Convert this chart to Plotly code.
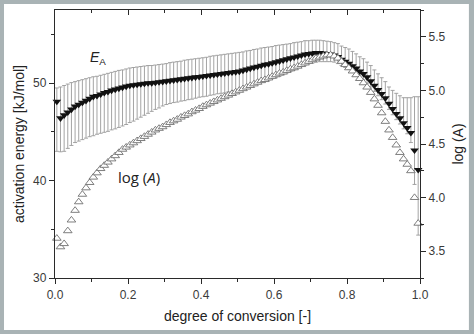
import plotly.graph_objects as go

# degree of conversion (independent variable)
conversion = [round(0.005 + 0.01 * i, 3) for i in range(100)]

# activation energy E_A [kJ/mol]
E_A = [
    48.1, 46.4, 46.7, 47.0, 47.3, 47.6, 47.8, 48.0, 48.2, 48.4,
    48.6, 48.7, 48.85, 49.0, 49.1, 49.25, 49.35, 49.45, 49.55, 49.65,
    49.75, 49.8, 49.85, 49.9, 49.95, 50.0, 50.0, 50.05, 50.1, 50.15,
    50.2, 50.25, 50.3, 50.35, 50.4, 50.45, 50.5, 50.55, 50.6, 50.65,
    50.7, 50.75, 50.8, 50.85, 50.9, 50.95, 51.0, 51.05, 51.1, 51.15,
    51.2, 51.3, 51.4, 51.5, 51.6, 51.7, 51.8, 51.9, 51.95, 52.05,
    52.15, 52.25, 52.35, 52.45, 52.55, 52.65, 52.75, 52.85, 52.95, 53.0,
    53.05, 53.1, 53.1, 53.05, 53.0, 52.95, 52.85, 52.7, 52.4, 52.2,
    52.0, 51.75, 51.5, 51.2, 50.95, 50.6, 50.2, 49.75, 49.3, 48.9,
    48.45, 47.9, 47.35, 46.85, 46.4, 45.9, 45.4, 44.9, 43.1, 41.1,
]

E_A_err_plus = [
    1.4, 3.2, 3.05, 2.9, 2.75, 2.55, 2.45, 2.35, 2.25, 2.15,
    2.05, 2.0, 1.95, 1.9, 1.9, 1.85, 1.85, 1.85, 1.8, 1.8,
    1.8, 1.8, 1.8, 1.8, 1.8, 1.8, 1.8, 1.8, 1.8, 1.8,
    1.8, 1.85, 1.85, 1.85, 1.85, 1.9, 1.9, 1.9, 1.9, 1.9,
    1.9, 1.9, 1.95, 1.95, 1.95, 1.95, 1.95, 1.95, 1.95, 1.95,
    1.95, 1.9, 1.9, 1.85, 1.85, 1.8, 1.8, 1.75, 1.75, 1.7,
    1.7, 1.65, 1.6, 1.55, 1.5, 1.5, 1.45, 1.4, 1.4, 1.35,
    1.35, 1.3, 1.3, 1.3, 1.3, 1.3, 1.3, 1.35, 1.4, 1.45,
    1.5, 1.5, 1.5, 1.5, 1.55, 1.55, 1.6, 1.6, 1.65, 1.65,
    1.7, 1.7, 1.9, 2.1, 2.3, 2.6, 3.1, 3.6, 5.5, 7.5,
]

E_A_err_minus = [
    5.1, 3.45, 3.7, 3.7, 3.7, 3.7, 3.75, 3.8, 3.85, 3.9,
    4.0, 3.95, 4.0, 4.05, 4.05, 4.05, 4.05, 4.0, 3.95, 3.9,
    3.8, 3.7, 3.55, 3.4, 3.25, 3.1, 2.9, 2.75, 2.65, 2.5,
    2.4, 2.35, 2.3, 2.3, 2.25, 2.25, 2.2, 2.2, 2.15, 2.1,
    2.1, 2.1, 2.05, 2.05, 2.0, 2.0, 2.0, 1.95, 1.95, 1.9,
    1.9, 1.9, 1.85, 1.85, 1.8, 1.75, 1.75, 1.7, 1.65, 1.6,
    1.6, 1.55, 1.5, 1.4, 1.35, 1.3, 1.2, 1.15, 1.1, 1.0,
    1.0, 0.95, 0.9, 0.85, 0.8, 0.75, 0.7, 0.7, 0.6, 0.6,
    0.6, 0.6, 0.6, 0.6, 0.6, 0.6, 0.6, 0.6, 0.6, 0.6,
    0.6, 0.6, 0.6, 0.6, 0.6, 0.6, 0.6, 1.0, 3.5, 6.7,
]

# pre-exponential factor log(A)
log_A = [
    3.62, 3.54, 3.57, 3.69, 3.79, 3.88, 3.96, 4.03, 4.09, 4.14,
    4.19, 4.23, 4.27, 4.30, 4.33, 4.36, 4.39, 4.42, 4.45, 4.47,
    4.49, 4.51, 4.53, 4.55, 4.57, 4.59, 4.61, 4.63, 4.645, 4.66,
    4.68, 4.70, 4.715, 4.73, 4.75, 4.765, 4.78, 4.80, 4.815, 4.83,
    4.85, 4.865, 4.88, 4.895, 4.91, 4.925, 4.94, 4.955, 4.97, 4.985,
    5.00, 5.015, 5.03, 5.045, 5.06, 5.075, 5.09, 5.10, 5.115, 5.13,
    5.145, 5.16, 5.17, 5.185, 5.20, 5.21, 5.225, 5.24, 5.255, 5.27,
    5.285, 5.30, 5.31, 5.32, 5.33, 5.33, 5.32, 5.30, 5.27, 5.24,
    5.21, 5.18, 5.145, 5.11, 5.07, 5.03, 4.98, 4.92, 4.86, 4.79,
    4.71, 4.63, 4.56, 4.49, 4.42, 4.36, 4.31, 4.25, 4.00, 3.76,
]

x_ticks = [0.0, 0.2, 0.4, 0.6, 0.8, 1.0]
x_labels = ["0.0", "0.2", "0.4", "0.6", "0.8", "1.0"]
y_left_ticks = [30, 40, 50]
y_right_ticks = [3.5, 4.0, 4.5, 5.0, 5.5]
y_right_labels = ["3.5", "4.0", "4.5", "5.0", "5.5"]

AXC = "#2a2a2a"
TXT = "#3a3a3a"
FONT = "Liberation Sans, Arial, sans-serif"

fig = go.Figure()

fig.add_trace(go.Scatter(
    x=conversion, y=E_A, mode="markers", xaxis="x", yaxis="y",
    marker=dict(symbol="triangle-down", size=7.5, color="#111111",
                line=dict(width=0)),
    error_y=dict(type="data", symmetric=False, array=E_A_err_plus,
                 arrayminus=E_A_err_minus, color="#9a9a9a",
                 thickness=0.9, width=2),
    cliponaxis=False, showlegend=False,
))

fig.add_trace(go.Scatter(
    x=conversion, y=log_A, mode="markers", xaxis="x", yaxis="y2",
    marker=dict(symbol="triangle-up", size=7.5, color="white",
                line=dict(width=0.9, color="#707070")),
    cliponaxis=False, showlegend=False,
))

# dummy trace on top x-axis so it is drawn
fig.add_trace(go.Scatter(x=[0.5], y=[40], xaxis="x2", yaxis="y",
                         mode="markers", marker=dict(opacity=0),
                         hoverinfo="skip", showlegend=False))

axis_common = dict(showline=True, linecolor=AXC, linewidth=1.3,
                   showgrid=False, zeroline=False, tickcolor=AXC,
                   tickwidth=1.2,
                   tickfont=dict(family=FONT, size=12, color=TXT))

fig.update_layout(
    width=474, height=334,
    margin=dict(l=55, r=54, t=10, b=56),
    paper_bgcolor="#a9b3b5",
    plot_bgcolor="white",
    xaxis=dict(range=[0, 1], tickvals=x_ticks, ticktext=x_labels,
               ticks="outside", ticklen=5,
               minor=dict(dtick=0.1, ticks="outside", ticklen=3,
                          tickcolor=AXC, tickwidth=1),
               title=dict(text="degree of conversion [-]", standoff=10,
                          font=dict(family=FONT, size=14, color="#222")),
               **axis_common),
    xaxis2=dict(range=[0, 1], overlaying="x", side="top", anchor="y",
                tickvals=x_ticks, showticklabels=False, ticks="inside",
                ticklen=5,
                minor=dict(dtick=0.1, ticks="inside", ticklen=3,
                           tickcolor=AXC, tickwidth=1),
                **axis_common),
    yaxis=dict(range=[30, 57.5], tickvals=y_left_ticks, ticks="outside",
               ticklen=5,
               minor=dict(dtick=5, ticks="outside", ticklen=3,
                          tickcolor=AXC, tickwidth=1),
               title=dict(text="activation energy [kJ/mol]", standoff=5,
                          font=dict(family=FONT, size=14, color="#222")),
               **axis_common),
    yaxis2=dict(range=[3.25, 5.75], overlaying="y", side="right",
                anchor="x", tickvals=y_right_ticks, ticktext=y_right_labels,
                ticks="outside", ticklen=5,
                minor=dict(dtick=0.25, ticks="outside", ticklen=3,
                           tickcolor=AXC, tickwidth=1),
                title=dict(text="log (A)", standoff=8,
                           font=dict(family=FONT, size=14, color="#222")),
                **axis_common),
    shapes=[dict(type="rect", xref="paper", yref="paper",
                 x0=-0.1397, x1=1.134, y0=-0.194, y1=1.022,
                 fillcolor="white", line=dict(width=0), layer="below")],
    annotations=[
        dict(text="<i>E</i><sub>A</sub>", x=0.118, y=52.6, xref="x",
             yref="y", showarrow=False,
             font=dict(family=FONT, size=14, color="#222")),
        dict(text="log (<i>A</i>)", x=0.23, y=4.19, xref="x", yref="y2",
             showarrow=False,
             font=dict(family="Open Sans, sans-serif", size=15,
                       color="#222")),
    ],
)

fig.write_html("out.html")
